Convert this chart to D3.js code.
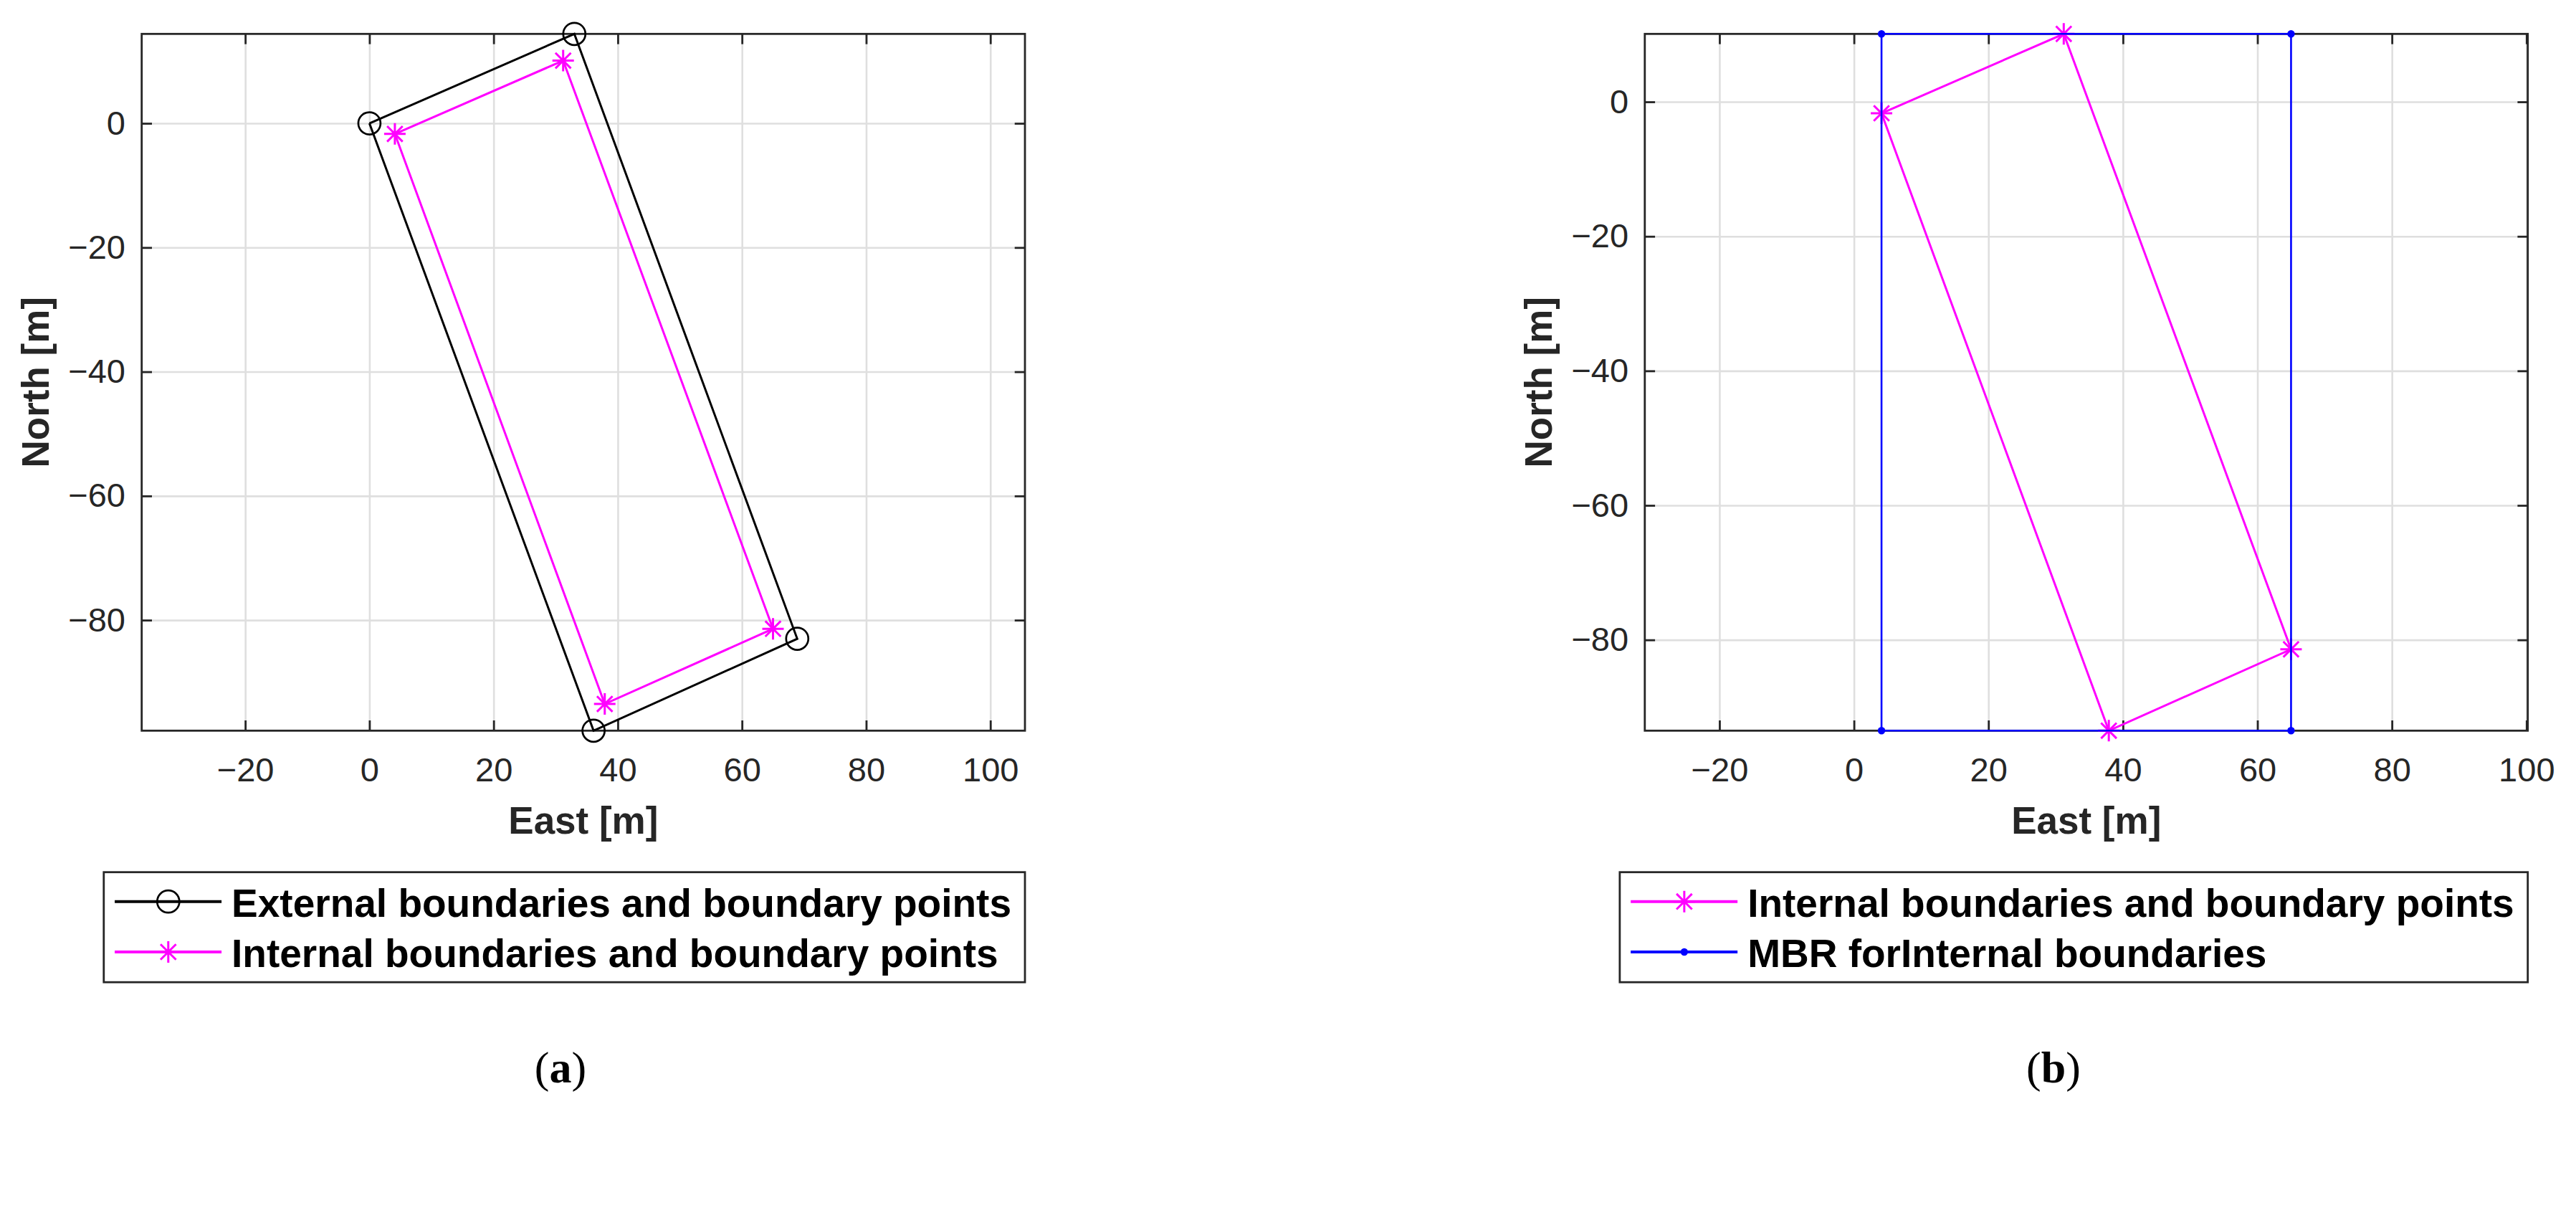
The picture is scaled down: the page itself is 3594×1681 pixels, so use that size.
<!DOCTYPE html>
<html>
<head>
<meta charset="utf-8">
<script src="https://cdn.jsdelivr.net/npm/d3@7"></script>
<style>
  body { margin: 0; background: #fff; }
  .tick-label text { font-family: "Liberation Sans", Arial, sans-serif; font-size: 47px; fill: #262626; }
  .axis-labels { font-family: "Liberation Sans", Arial, sans-serif; font-size: 53px; font-weight: bold; fill: #262626; }
  .legend-text { font-family: "Liberation Sans", Arial, sans-serif; font-size: 55px; font-weight: bold; fill: #000; }
  .panel-label { font-family: "Liberation Serif", "Times New Roman", serif; font-size: 62px; fill: #000; }
</style>
</head>
<body>
<svg id="chart"></svg>
<script>
// boundary corner points (metres)
var ext_east  = [0, 33.0, 68.9, 36.1];
var ext_north = [0, 14.4, -83.0, -97.8];
var int_east  = [4.1, 31.2, 65.0, 37.9];
var int_north = [-1.7, 10.1, -81.4, -93.5];

var x_ticks = [-20, 0, 20, 40, 60, 80, 100];
var y_ticks = [-80, -60, -40, -20, 0];

var legend_a = ["External boundaries and boundary points", "Internal boundaries and boundary points"];
var legend_b = ["Internal boundaries and boundary points", "MBR forInternal boundaries"];
var panel_names = ["a", "b"];

var fig_w = 3594, fig_h = 1681;
var axis_col = "#262626", grid_col = "#dfdfdf";
var tick_len = 14.3;

var svg = d3.select("#chart")
    .attr("width", fig_w)
    .attr("height", fig_h);

svg.append("rect").attr("width", fig_w).attr("height", fig_h).attr("fill", "#fff");

function zip(xs, ys) {
    return xs.map(function(d, i) { return [d, ys[i]]; });
}

function closed(pts) {
    return pts.concat([pts[0]]);
}

// MBR of the internal boundary
var mbr_e = d3.extent(int_east), mbr_n = d3.extent(int_north);
var mbr_pts = [[mbr_e[0], mbr_n[1]], [mbr_e[1], mbr_n[1]], [mbr_e[1], mbr_n[0]], [mbr_e[0], mbr_n[0]]];

var ext_pts = zip(ext_east, ext_north);
var int_pts = zip(int_east, int_north);

function star_path(r) {
    var a = r * 0.72;
    return "M" + (-r) + ",0L" + r + ",0M0," + (-r) + "L0," + r +
        "M" + (-a) + "," + (-a) + "L" + a + "," + a +
        "M" + (-a) + "," + a + "L" + a + "," + (-a);
}

function draw_marker(g, kind, color, px, py) {
    if (kind == "circle") {
        g.append("circle").attr("cx", px).attr("cy", py).attr("r", 15.5)
            .attr("fill", "none").attr("stroke", color).attr("stroke-width", 2.7);
    } else if (kind == "star") {
        g.append("path").attr("d", star_path(15))
            .attr("transform", "translate(" + px + "," + py + ")")
            .attr("fill", "none").attr("stroke", color).attr("stroke-width", 3);
    } else if (kind == "dot") {
        g.append("circle").attr("cx", px).attr("cy", py).attr("r", 5.2).attr("fill", color);
    }
}

// like matlab "axis equal": tight in one direction, padded in the other
function equal_scales(pts, w, h) {
    var xe = d3.extent(pts, function(d) { return d[0]; });
    var ye = d3.extent(pts, function(d) { return d[1]; });
    var k = Math.min(w / (xe[1] - xe[0]), h / (ye[1] - ye[0]));
    var xc = (xe[0] + xe[1]) / 2, yc = (ye[0] + ye[1]) / 2;
    return {
        x: d3.scaleLinear().domain([xc - w / 2 / k, xc + w / 2 / k]).range([0, w]),
        y: d3.scaleLinear().domain([yc - h / 2 / k, yc + h / 2 / k]).range([h, 0])
    };
}

function draw_panel(cfg) {
    var w = cfg.width, h = cfg.height;
    var all_pts = [];
    cfg.series.forEach(function(s) { all_pts = all_pts.concat(s.pts); });
    var sc = equal_scales(all_pts, w, h);
    var x = sc.x, y = sc.y;

    var g = svg.append("g").attr("transform", "translate(" + cfg.left + "," + cfg.top + ")");

    // grid
    g.append("g").attr("transform", "translate(0," + h + ")")
        .call(d3.axisBottom(x).tickValues(x_ticks).tickSize(-h).tickFormat(""))
        .call(function(a) { a.select(".domain").remove(); a.selectAll("line").attr("stroke", grid_col).attr("stroke-width", 2.6); });
    g.append("g")
        .call(d3.axisLeft(y).tickValues(y_ticks).tickSize(-w).tickFormat(""))
        .call(function(a) { a.select(".domain").remove(); a.selectAll("line").attr("stroke", grid_col).attr("stroke-width", 2.6); });

    // ticks + labels
    g.append("g").attr("class", "tick-label").attr("transform", "translate(0," + h + ")")
        .call(d3.axisBottom(x).tickValues(x_ticks).tickSizeInner(-tick_len).tickSizeOuter(0).tickPadding(37))
        .call(function(a) { a.select(".domain").remove(); });
    g.append("g").attr("class", "tick-label")
        .call(d3.axisLeft(y).tickValues(y_ticks).tickSizeInner(-tick_len).tickSizeOuter(0).tickPadding(22.7))
        .call(function(a) { a.select(".domain").remove(); });
    g.append("g")
        .call(d3.axisTop(x).tickValues(x_ticks).tickSizeInner(-tick_len).tickSizeOuter(0).tickFormat(""))
        .call(function(a) { a.select(".domain").remove(); });
    g.append("g").attr("transform", "translate(" + w + ",0)")
        .call(d3.axisRight(y).tickValues(y_ticks).tickSizeInner(-tick_len).tickSizeOuter(0).tickFormat(""))
        .call(function(a) { a.select(".domain").remove(); });
    g.selectAll(".tick line").filter(function() { return d3.select(this).attr("stroke") == "currentColor"; })
        .attr("stroke", axis_col).attr("stroke-width", 2.8);
    g.selectAll(".tick text").attr("fill", axis_col).attr("font-family", null).attr("font-size", null);

    // box (under the data, so lines on the edge stay visible)
    g.append("rect").attr("width", w).attr("height", h)
        .attr("fill", "none").attr("stroke", axis_col).attr("stroke-width", 2.8);

    // data
    var line = d3.line()
        .x(function(d) { return x(d[0]); })
        .y(function(d) { return y(d[1]); });

    cfg.series.forEach(function(s) {
        g.append("path")
            .datum(closed(s.pts))
            .attr("d", line)
            .attr("fill", "none")
            .attr("stroke", s.color)
            .attr("stroke-width", s.lw);
        s.pts.forEach(function(p) { draw_marker(g, s.marker, s.color, x(p[0]), y(p[1])); });
    });

    // axis labels
    g.append("text").attr("class", "axis-labels")
        .attr("x", w / 2).attr("y", 1163.3 - cfg.top)
        .style("text-anchor", "middle")
        .text("East [m]");
    g.append("text").attr("class", "axis-labels")
        .attr("transform", "translate(-129.4," + (h / 2) + ") rotate(-90)")
        .style("text-anchor", "middle")
        .text("North [m]");

    // legend, right edge aligned with axes
    var leg = svg.append("g");
    var leg_top = 1216.7, leg_h = 153.5, row_y = [1257.7, 1328];
    var leg_bg = leg.append("rect");
    var max_w = 0;
    cfg.series.forEach(function(s, i) {
        var t = leg.append("text").attr("class", "legend-text")
            .attr("y", row_y[i] + 21)
            .text(cfg.legend[i]);
        max_w = Math.max(max_w, t.node().getComputedTextLength());
    });
    var leg_w = max_w + 178.3 + 19;
    var leg_left = cfg.left + w - leg_w;
    leg.selectAll("text").attr("x", leg_left + 178.3);
    leg_bg.attr("x", leg_left).attr("y", leg_top).attr("width", leg_w).attr("height", leg_h)
        .attr("fill", "#fff").attr("stroke", axis_col).attr("stroke-width", 2.8);
    cfg.series.forEach(function(s, i) {
        leg.append("line")
            .attr("x1", leg_left + 15.3).attr("x2", leg_left + 164.3)
            .attr("y1", row_y[i]).attr("y2", row_y[i])
            .attr("stroke", s.color).attr("stroke-width", 4);
        draw_marker(leg, s.marker, s.color, leg_left + 90, row_y[i]);
    });

    // (a) / (b)
    var lab = svg.append("text").attr("class", "panel-label")
        .attr("x", cfg.label_x).attr("y", 1510)
        .style("text-anchor", "middle");
    lab.append("tspan").text("(");
    lab.append("tspan").attr("font-weight", "bold").text(cfg.name);
    lab.append("tspan").text(")");
}

draw_panel({
    left: 197.7, top: 47.3, width: 1232.3, height: 972,
    series: [
        {pts: ext_pts, color: "#000000", marker: "circle", lw: 3},
        {pts: int_pts, color: "#ff00ff", marker: "star", lw: 3}
    ],
    legend: legend_a,
    name: panel_names[0],
    label_x: 782
});

draw_panel({
    left: 2294.8, top: 47.3, width: 1231.9, height: 972,
    series: [
        {pts: int_pts, color: "#ff00ff", marker: "star", lw: 3},
        {pts: mbr_pts, color: "#0000ff", marker: "dot", lw: 2.6}
    ],
    legend: legend_b,
    name: panel_names[1],
    label_x: 2865
});
</script>
</body>
</html>
